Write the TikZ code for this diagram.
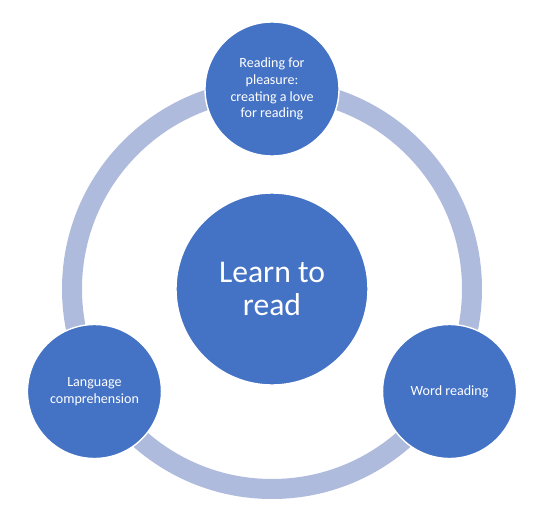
\documentclass[tikz,border=0pt]{standalone}
\usepackage{fontspec}
\setmainfont{Carlito}
\usepackage{tikz}
\usetikzlibrary{shapes.geometric,positioning,calc}
\definecolor{blobblue}{RGB}{68,114,196}
\definecolor{ringblue}{RGB}{174,187,221}
\tikzstyle{hub} = [circle, minimum size=3.84cm, inner sep=0pt, fill=blobblue, draw=white, line width=0.8pt, text=white, font=\fontsize{18}{19}\selectfont, align=center]
\tikzstyle{spoke} = [circle, minimum size=2.68cm, inner sep=0pt, fill=blobblue, draw=white, line width=0.8pt, text=white, font=\fontsize{8}{9.5}\selectfont, align=center]
\tikzstyle{ring} = [ringblue, line width=0.4cm]

\begin{document}
\begin{tikzpicture}
\useasboundingbox (-5.44,-4.66) rectangle (5.56,5.78);

\node (Lr) [hub] at (0,0) {Learn to\\read};

\draw [ring] (Lr.center) circle (4cm);

\node (Rp) [spoke] at (90:4) {Reading for\\pleasure:\\creating a love\\for reading};
\node (Lc) [spoke] at (210:4.1) {Language\\comprehension};
\node (Wr) [spoke] at (330:4.1) {Word reading};
\end{tikzpicture}
\end{document}
